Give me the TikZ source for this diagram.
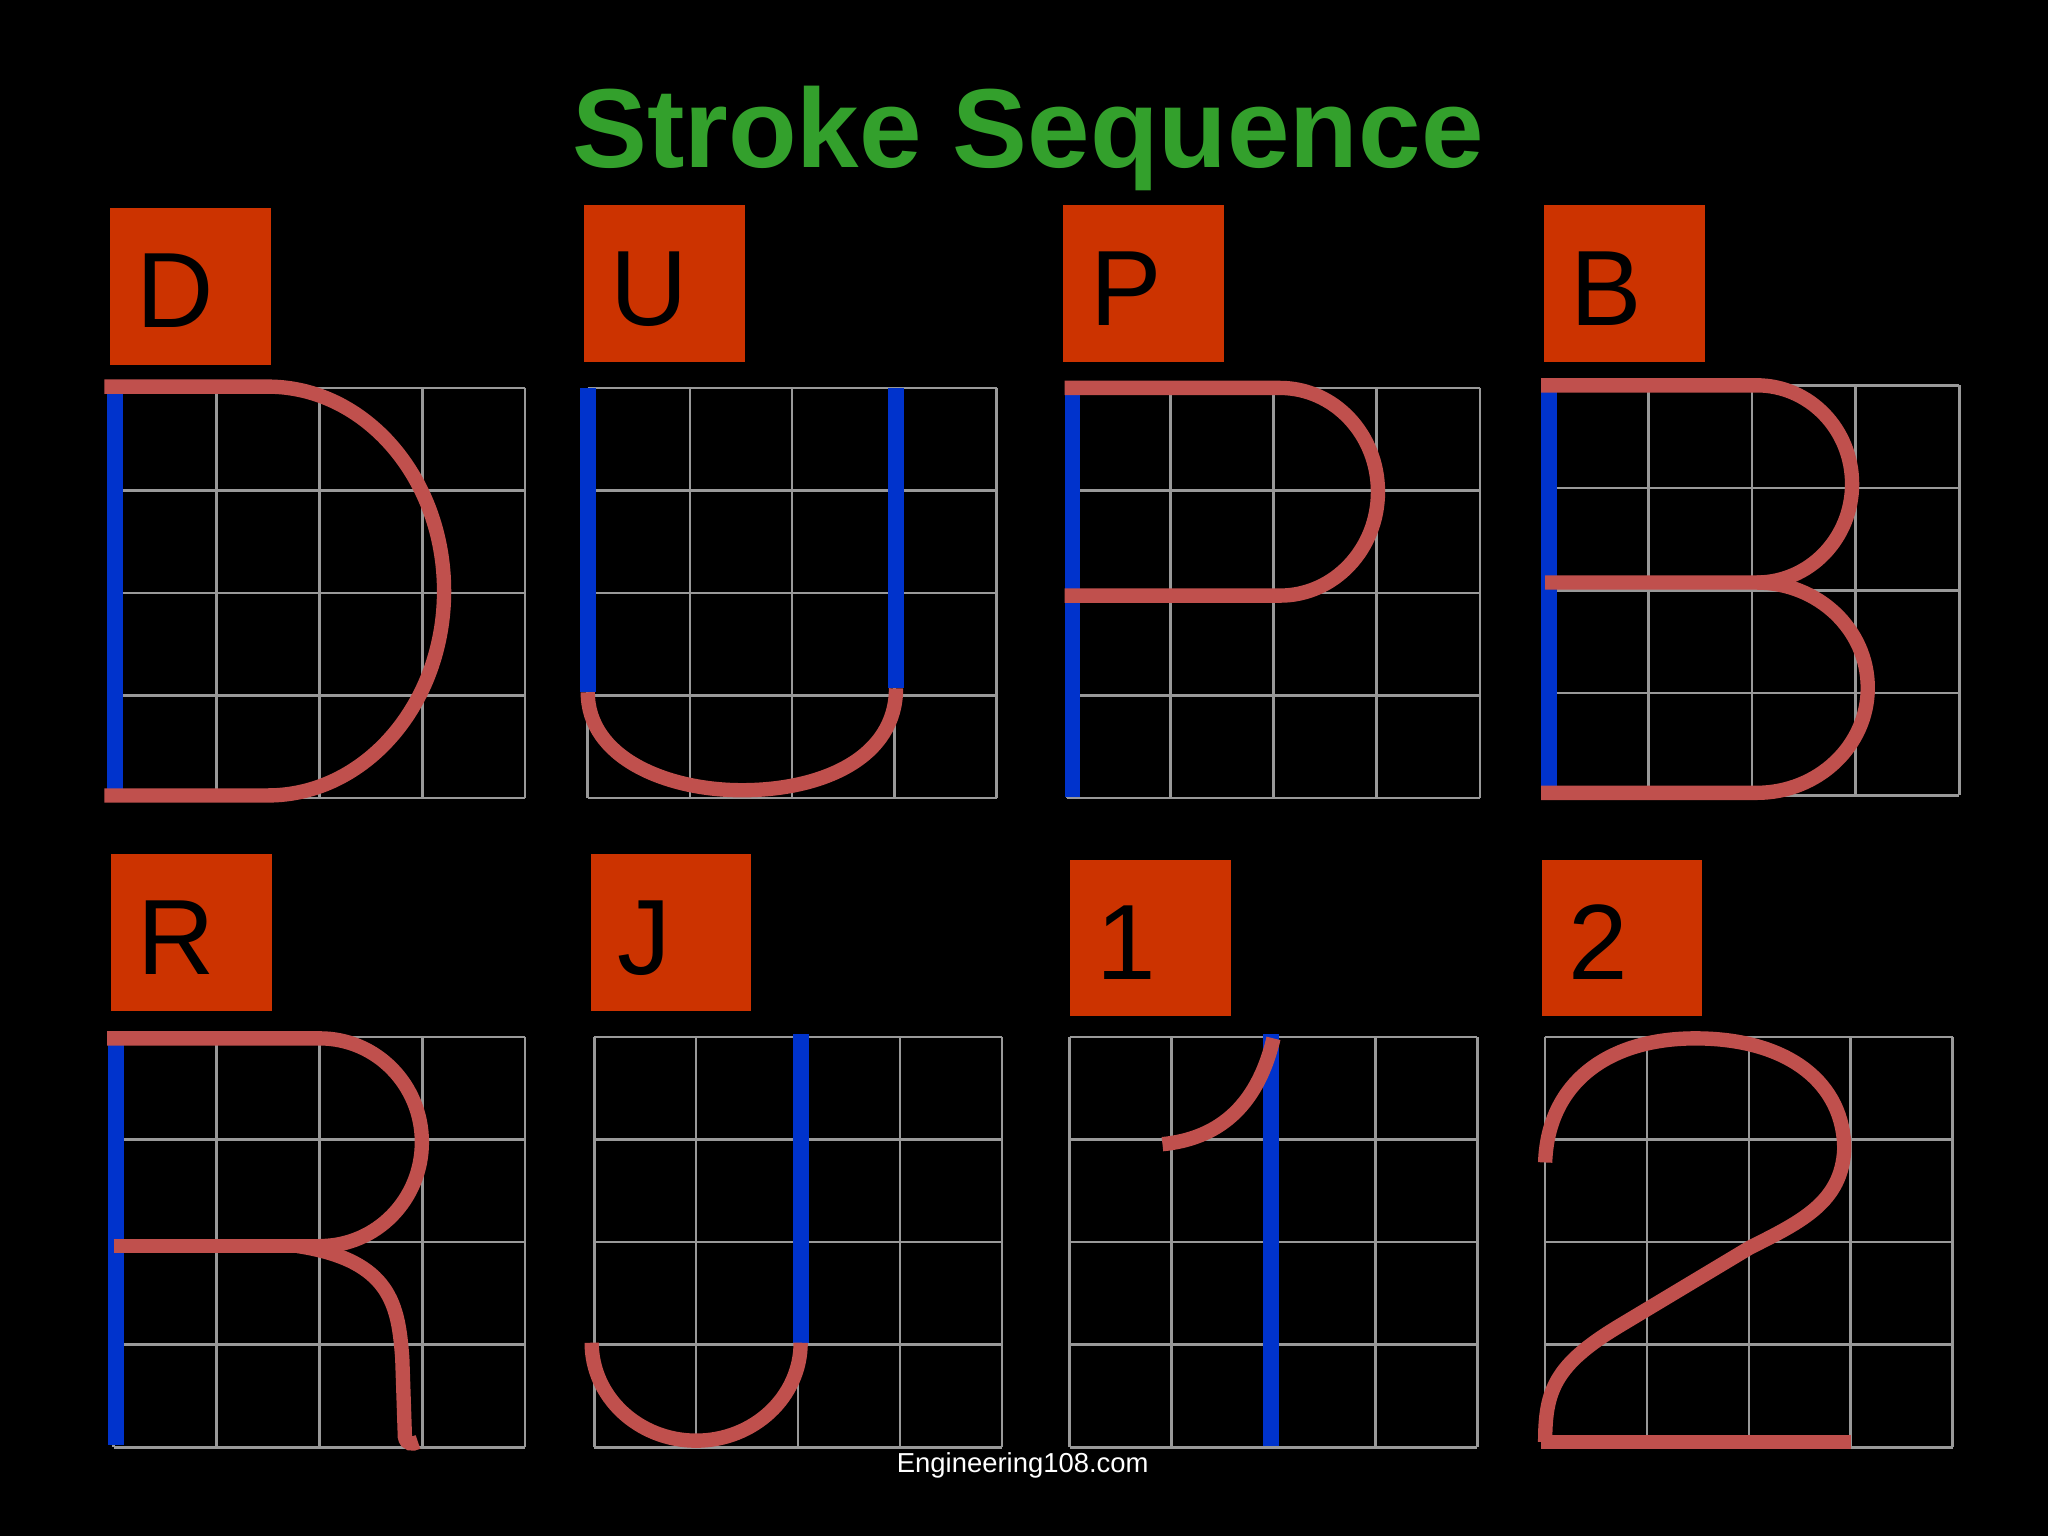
\documentclass[tikz,border=0pt]{standalone}
\usepackage{fontspec}
\setmainfont{Liberation Sans}
\begin{document}
\begin{tikzpicture}[x=1pt,y=-1pt,
  gridl/.style={draw=gray!80,line width=2pt},
  blue stroke/.style={draw={rgb,255:red,0;green,51;blue,204},line width=12pt},
  red stroke/.style={draw={rgb,255:red,192;green,80;blue,77},line width=11pt},
  lbox/.style={fill={rgb,255:red,204;green,51;blue,0},minimum width=123pt,minimum height=120pt,anchor=north west,inner sep=0pt},
  ltxt/.style={font=\fontsize{82}{82}\selectfont,text=black,anchor=base west}]
\useasboundingbox (0,0) rectangle (1568,1176);
\fill[black] (0,0) rectangle (1568,1176);
\node[font=\fontsize{86}{86}\selectfont\bfseries,text={rgb,255:red,51;green,160;blue,44}] (title) at (787,106) {Stroke Sequence};
\node[font=\fontsize{21}{21}\selectfont,text=white] (foot) at (783,1122) {Engineering108.com};
% grids
\foreach \x/\y/\w/\h in {87/297/315/314, 450/297/313/314, 817/297/316/314, 1183/295/317/314, 87/794/315/314, 455/794/312/314, 819/794/312/314, 1183/794/312/314}{
  \foreach \i in {0,...,4}{
    \draw[gridl] (\x+\i*\w/4,\y) -- (\x+\i*\w/4,\y+\h);
    \draw[gridl] (\x,\y+\i*\h/4) -- (\x+\w,\y+\i*\h/4);
  }
}
% label boxes
\foreach \n/\x/\y/\t in {bD/84/159/D, bU/447/157/U, bP/814/157/P, bB/1182/157/B, bR/85/654/R, bJ/452/654/J, b1/819/658/1, b2/1180/658/2}{
  \node[lbox] (\n) at (\x,\y) {};
  \node[ltxt] at (\x+17,\y+92) {\t};
}
% D
\draw[blue stroke] (88,297) -- (88,611);
\draw[red stroke] (80,296) -- (205,296) arc[start angle=-90,end angle=90,x radius=135,y radius=156.5] -- (80,609);
% U
\draw[blue stroke] (450,297) -- (450,530);
\draw[blue stroke] (686,297) -- (686,527);
\draw[red stroke] (450,530) .. controls (450,580) and (510,605) .. (568,605) .. controls (630,605) and (686,580) .. (686,527);
% P
\draw[blue stroke] (821,297) -- (821,610);
\draw[red stroke] (815,297) -- (980,297) arc[start angle=-90,end angle=90,x radius=75,y radius=79.5] -- (815,456);
% B
\draw[blue stroke] (1186,293) -- (1186,603);
\draw[red stroke] (1180,295) -- (1345,295) arc[start angle=-90,end angle=90,x radius=73,y radius=75.5];
\draw[red stroke] (1183,446) -- (1345,446) arc[start angle=-90,end angle=90,x radius=85,y radius=80.5] -- (1180,607);
% R
\draw[blue stroke] (89,795) -- (89,1106);
\draw[red stroke] (82,795) -- (245,795) arc[start angle=-90,end angle=90,x radius=78,y radius=79.5];
\draw[red stroke] (87,954) -- (245,954);
\draw[red stroke] (228,954) .. controls (300,965) and (305,1000) .. (308,1040) -- (310,1100) .. controls (311,1106) and (316,1106) .. (320,1104);
% J
\draw[blue stroke] (613,792) -- (613,1028);
\draw[red stroke] (453,1028) arc[start angle=180,end angle=0,x radius=80,y radius=75];
% 1
\draw[blue stroke] (973,792) -- (973,1107);
\draw[red stroke] (975,795) .. controls (962,850) and (930,872) .. (890,876);
% 2
\draw[red stroke] (1183,890) .. controls (1185,830) and (1230,795) .. (1298,795) .. controls (1370,795) and (1412,830) .. (1412,880) .. controls (1410,920) and (1380,935) .. (1340,955) -- (1240,1015) .. controls (1190,1045) and (1183,1065) .. (1183,1104);
\draw[red stroke] (1180,1104) -- (1417,1104);
\end{tikzpicture}
\end{document}
